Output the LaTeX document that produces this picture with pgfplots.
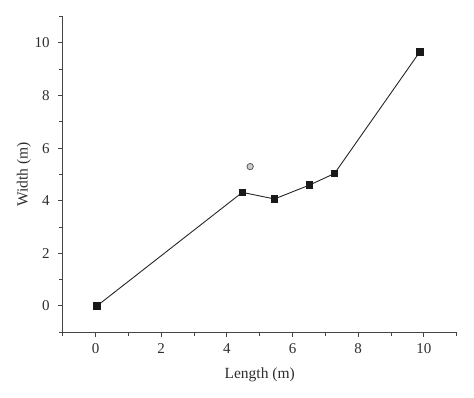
\documentclass[border=0pt]{standalone}
\usepackage{pgfplots}
\pgfplotsset{compat=1.18}
\usepackage{fontspec}
\setmainfont{Liberation Serif}
\definecolor{axisgray}{HTML}{444444}
\definecolor{textgray}{HTML}{2E2E2E}
\begin{document}
\begin{tikzpicture}[font=\fontsize{15bp}{17bp}\selectfont]
\useasboundingbox (0,0) rectangle (474bp,398bp);
\begin{axis}[
  at={(62.7bp,65.7bp)}, anchor=south west,
  scale only axis, width=394bp, height=315.6bp,
  xmin=-1, xmax=11, ymin=-1, ymax=11,
  axis x line=bottom, axis y line=left,
  axis line style={-, axisgray, line width=1.1bp},
  xtick={0,2,...,10}, ytick={0,2,...,10},
  minor xtick={-1,1,3,...,11}, minor ytick={-1,1,3,...,11},
  tick align=outside,
  major tick length=4.5bp, minor tick length=3.5bp,
  every tick/.style={axisgray, line width=1bp},
  tick label style={font=\fontsize{15bp}{17bp}\selectfont, text=textgray},
  /pgf/number format/assume math mode=true,
  xticklabel style={yshift=-3bp},
  yticklabel style={xshift=-5bp},
  xlabel={Length (m)}, ylabel={Width (m)},
  label style={font=\fontsize{15.5bp}{17bp}\selectfont, text=textgray},
  xlabel style={yshift=-7bp},
  ylabel style={yshift=-3bp},
  clip=false,
]
\addplot[black!85, line width=0.9bp, mark=square*, mark size=3.3bp,
  mark options={fill=black!90, draw=black!90}] coordinates {
  (0.04,0) (4.47,4.32) (5.45,4.07) (6.52,4.60) (7.28,5.04) (9.88,9.67)
};
\addplot[only marks, mark=*, mark size=3.2bp,
  mark options={fill=gray!40, draw=black!70, line width=0.7bp}] coordinates {
  (4.71,5.30)
};
\end{axis}
\end{tikzpicture}
\end{document}
